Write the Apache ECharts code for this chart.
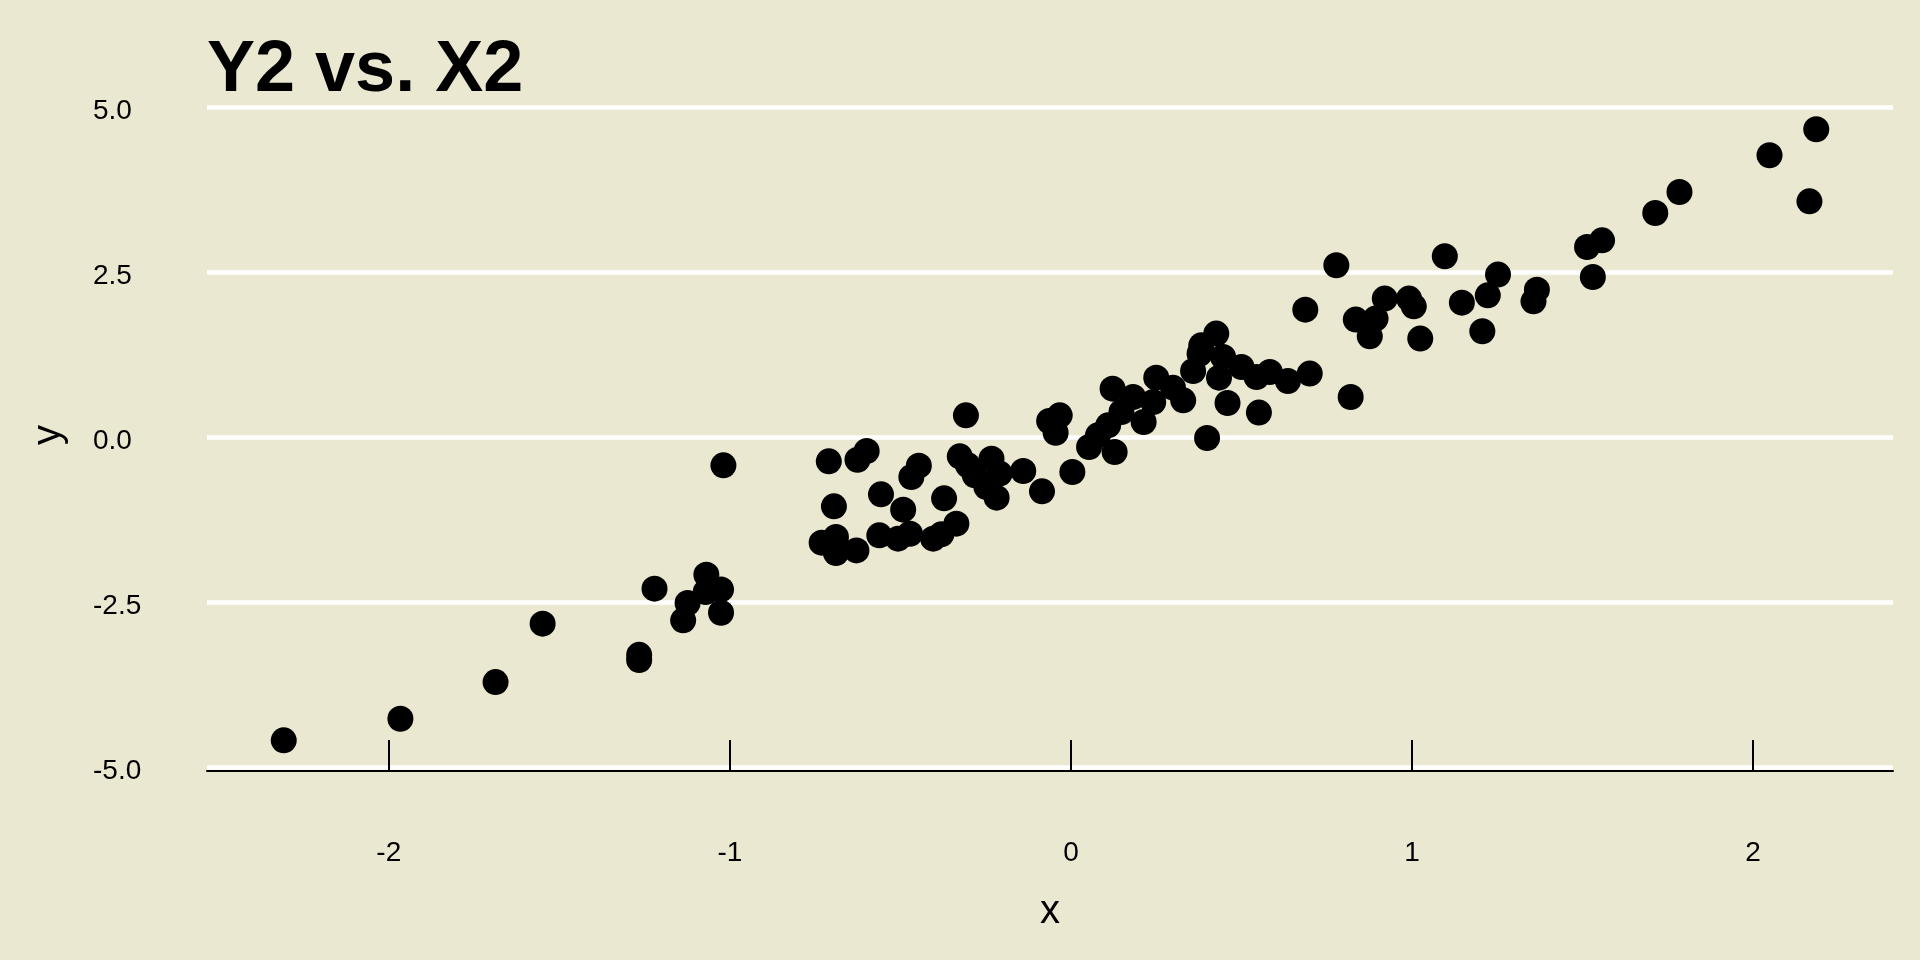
<!DOCTYPE html>
<html>
<head>
<meta charset="utf-8">
<script src="https://cdn.jsdelivr.net/npm/echarts@6/dist/echarts.min.js"></script>
<style>
html,body{margin:0;padding:0;background:#EBE8D1;}
#chart{width:1920px;height:960px;}
</style>
</head>
<body>
<div id="chart"></div>
<script>
const titleText = 'Y2 vs. X2';
const xTicks = [-2, -1, 0, 1, 2];
const yTicks = [-5, -2.5, 0, 2.5, 5];
const xs = [
  -2.308, -1.966, -1.687, -1.549, -1.266, -1.266, -1.221, -1.019, -1.069, -1.026, -1.071, -1.026, -1.124, -1.137,
  -0.710, -0.626, -0.599, -0.695, -0.557, -0.446, -0.468, -0.492, -0.372, -0.308, -0.326, -0.302, -0.282, -0.233,
  -0.209, -0.248, -0.218, -0.140, -0.085, 0.004, -0.033, -0.064, -0.045, -0.731, -0.689, -0.689, -0.629, -0.562,
  -0.507, -0.472, -0.404, -0.380, -0.336,
  0.053, 0.128, 0.109, 0.122, 0.148, 0.182, 0.213, 0.241, 0.079, 0.250, 0.299, 0.329, 0.358, 0.382, 0.426, 0.377,
  0.446, 0.434, 0.459, 0.399, 0.500, 0.544, 0.583, 0.636, 0.551,
  0.778, 1.096, 1.252, 1.366, 1.356, 0.687, 0.835, 0.893, 0.876, 0.920, 0.991, 1.005, 1.024, 1.146, 1.222, 1.206,
  0.700, 0.820,
  1.513, 1.557, 1.530, 1.713, 1.784, 2.048, 2.185, 2.165
];
const ys = [
  -4.586, -4.258, -3.703, -2.818, -3.290, -3.370, -2.288, -0.420, -2.076, -2.299, -2.339, -2.652, -2.505, -2.768,
  -0.359, -0.334, -0.203, -1.041, -0.859, -0.424, -0.597, -1.091, -0.920, 0.338, -0.283, -0.420, -0.571, -0.318,
  -0.545, -0.748, -0.909, -0.505, -0.814, -0.520, 0.338, 0.252, 0.075, -1.591, -1.506, -1.748, -1.708, -1.480,
  -1.530, -1.455, -1.530, -1.465, -1.303,
  -0.142, -0.218, 0.186, 0.742, 0.388, 0.615, 0.236, 0.539, 0.035, 0.909, 0.757, 0.565, 1.009, 1.398, 1.576, 1.270,
  1.221, 0.909, 0.525, -0.005, 1.070, 0.918, 0.994, 0.858, 0.379,
  2.611, 2.747, 2.470, 2.242, 2.065, 1.939, 1.788, 1.803, 1.535, 2.106, 2.106, 1.989, 1.500, 2.045, 2.156, 1.611,
  0.970, 0.615,
  2.888, 2.989, 2.433, 3.403, 3.721, 4.277, 4.671, 3.580
];
const points = xs.map((x, i) => [x, ys[i]]);

const chart = echarts.init(document.getElementById('chart'));
const font = 'Liberation Sans, Arial, Helvetica, sans-serif';
chart.setOption({
  backgroundColor: '#EBE8D1',
  animation: false,
  title: {
    text: titleText,
    left: 207,
    top: 35,
    padding: 0,
    textStyle: { fontFamily: font, fontWeight: 'bold', fontSize: 72, color: '#000' }
  },
  grid: { left: 207, right: 27, top: 99, bottom: 189, containLabel: false },
  xAxis: {
    type: 'value',
    min: -2.533,
    max: 2.41,
    z: 8,
    name: 'x',
    nameLocation: 'middle',
    nameGap: 141,
    nameTextStyle: { fontFamily: font, fontSize: 40, color: '#000', verticalAlign: 'middle' },
    axisLine: { show: true, onZero: false, lineStyle: { color: '#000', width: 2 } },
    axisTick: { show: true, inside: true, length: 31, lineStyle: { color: '#000', width: 2 }, customValues: xTicks },
    axisLabel: { show: true, customValues: xTicks, margin: 82, verticalAlign: 'middle',
      fontFamily: font, fontSize: 28, color: '#000' },
    splitLine: { show: false }
  },
  yAxis: {
    type: 'value',
    min: -5.05,
    max: 5.13,
    name: 'y',
    nameLocation: 'middle',
    nameRotate: 90,
    nameGap: 158,
    nameTextStyle: { fontFamily: font, fontSize: 40, color: '#000', verticalAlign: 'middle' },
    axisLine: { show: false, onZero: false },
    axisTick: { show: false, customValues: yTicks },
    axisLabel: { show: true, customValues: yTicks, align: 'left', margin: 114,
      verticalAlign: 'top', lineHeight: 7,
      fontFamily: font, fontSize: 28, color: '#000',
      formatter: v => Number(v).toFixed(1) },
    splitLine: { show: false }
  },
  series: [
    {
      type: 'scatter',
      data: [],
      z: 1,
      silent: true,
      markLine: {
        silent: true,
        symbol: 'none',
        animation: false,
        label: { show: false },
        lineStyle: { color: '#ffffff', width: 4.5, type: 'solid' },
        emphasis: { disabled: true },
        data: yTicks.map(v => ({ yAxis: v }))
      }
    },
    {
      type: 'scatter',
      z: 10,
      data: points,
      symbol: 'circle',
      symbolSize: 26,
      itemStyle: { color: '#000', opacity: 1 },
      emphasis: { disabled: true }
    }
  ]
});
</script>
</body>
</html>
